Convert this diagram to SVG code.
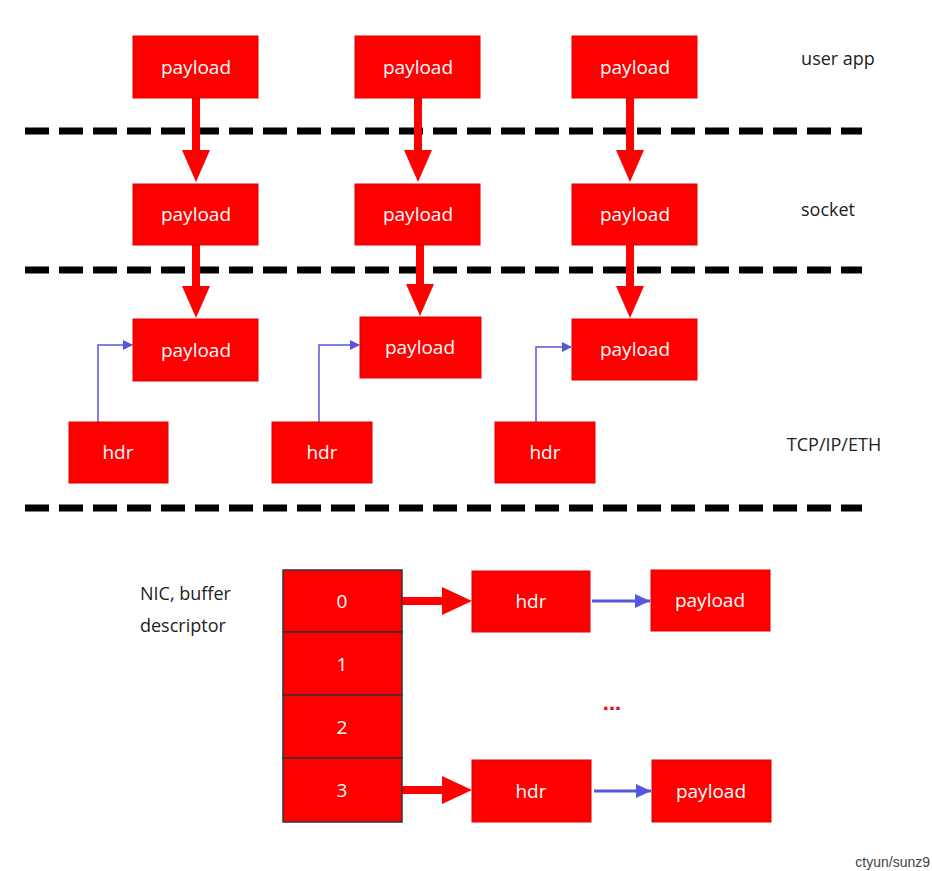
<svg xmlns="http://www.w3.org/2000/svg" width="932" height="871" viewBox="0 0 932 871">
<defs>
<style>
.b{fill:#ff0000;stroke:#e00000;stroke-width:1}
.t{fill:#fff;font-family:"Open Sans","Liberation Sans",sans-serif;font-size:19px;text-anchor:middle;dominant-baseline:central}
.l{fill:#222;font-family:"Open Sans","Liberation Sans",sans-serif;font-size:18px}
.d{stroke:#000;stroke-width:7;stroke-dasharray:24 10;fill:none}
.r{stroke:#ff0000;stroke-width:8;fill:none}
.u{stroke:#5555dd;stroke-width:1.5;fill:none}
.u3{stroke:#5555dd;stroke-width:3;fill:none}
.c{fill:#ff0000;stroke:#333;stroke-width:1.5}
</style>
<marker id="bh" markerWidth="10" markerHeight="10" refX="9" refY="5" orient="auto" markerUnits="userSpaceOnUse"><path d="M0,0 L10,5 L0,10 z" fill="#5555dd"/></marker>
<marker id="bh2" markerWidth="16" markerHeight="16" refX="15" refY="8" orient="auto" markerUnits="userSpaceOnUse"><path d="M0,1 L15,8 L0,15 z" fill="#5555dd"/></marker>
</defs>
<rect width="932" height="871" fill="#fff"/>
<g id="dashes">
<line class="d" x1="25" y1="131" x2="862" y2="131"/>
<line class="d" x1="25" y1="270" x2="862" y2="270"/>
<line class="d" x1="25" y1="508" x2="862" y2="508"/>
</g>
<g id="connectors">
<line class="r" x1="196" y1="98" x2="196" y2="152"/><path d="M182,150 L210,150 L196,182 z" fill="#f00"/>
<line class="r" x1="418" y1="98" x2="418" y2="152"/><path d="M404,150 L432,150 L418,182 z" fill="#f00"/>
<line class="r" x1="630" y1="98" x2="630" y2="152"/><path d="M616,150 L644,150 L630,182 z" fill="#f00"/>
<line class="r" x1="196" y1="245" x2="196" y2="288"/><path d="M182,286 L210,286 L196,318 z" fill="#f00"/>
<line class="r" x1="420" y1="245" x2="420" y2="286"/><path d="M406,284 L434,284 L420,316 z" fill="#f00"/>
<line class="r" x1="630" y1="245" x2="630" y2="288"/><path d="M616,286 L644,286 L630,318 z" fill="#f00"/>
<path class="u" d="M98,422 V345 H132" marker-end="url(#bh)"/>
<path class="u" d="M319,422 V345 H359" marker-end="url(#bh)"/>
<path class="u" d="M536,422 V347 H571" marker-end="url(#bh)"/>
<line class="r" x1="402" y1="601" x2="444" y2="601"/><path d="M442,587 L472,601 L442,615 z" fill="#f00"/>
<line class="r" x1="402" y1="790" x2="444" y2="790"/><path d="M442,776 L472,790 L442,804 z" fill="#f00"/>
<line class="u3" x1="592" y1="601" x2="650" y2="601" marker-end="url(#bh2)"/>
<line class="u3" x1="594" y1="791" x2="651" y2="791" marker-end="url(#bh2)"/>
</g>
<g id="row1">
<g id="p1a"><rect class="b" x="133" y="36" width="125" height="62"/><text class="t" x="196" y="67">payload</text></g>
<g id="p1b"><rect class="b" x="355" y="36" width="125" height="62"/><text class="t" x="418" y="67">payload</text></g>
<g id="p1c"><rect class="b" x="572" y="36" width="125" height="62"/><text class="t" x="635" y="67">payload</text></g>
</g>
<g id="row2">
<g id="p2a"><rect class="b" x="133" y="184" width="125" height="61"/><text class="t" x="196" y="214">payload</text></g>
<g id="p2b"><rect class="b" x="355" y="184" width="125" height="61"/><text class="t" x="418" y="214">payload</text></g>
<g id="p2c"><rect class="b" x="572" y="184" width="125" height="61"/><text class="t" x="635" y="214">payload</text></g>
</g>
<g id="row3">
<g id="p3a"><rect class="b" x="133" y="319" width="125" height="62"/><text class="t" x="196" y="350">payload</text></g>
<g id="p3b"><rect class="b" x="360" y="317" width="121" height="61"/><text class="t" x="420" y="347">payload</text></g>
<g id="p3c"><rect class="b" x="572" y="319" width="125" height="61"/><text class="t" x="635" y="349">payload</text></g>
<g id="h3a"><rect class="b" x="69" y="422" width="99" height="61"/><text class="t" x="118" y="452">hdr</text></g>
<g id="h3b"><rect class="b" x="272" y="422" width="100" height="61"/><text class="t" x="322" y="452">hdr</text></g>
<g id="h3c"><rect class="b" x="495" y="422" width="100" height="61"/><text class="t" x="545" y="452">hdr</text></g>
</g>
<g id="nic">
<rect class="c" x="283" y="570" width="119" height="62"/><text class="t" x="342" y="601">0</text>
<rect class="c" x="283" y="632" width="119" height="63"/><text class="t" x="342" y="664">1</text>
<rect class="c" x="283" y="695" width="119" height="63"/><text class="t" x="342" y="727">2</text>
<rect class="c" x="283" y="758" width="119" height="64"/><text class="t" x="342" y="790">3</text>
</g>
<g id="bufs">
<g id="h0"><rect class="b" x="472" y="571" width="118" height="61"/><text class="t" x="531" y="601">hdr</text></g>
<g id="q0"><rect class="b" x="651" y="570" width="119" height="61"/><text class="t" x="710" y="600">payload</text></g>
<g id="h3"><rect class="b" x="472" y="760" width="119" height="62"/><text class="t" x="531" y="791">hdr</text></g>
<g id="q3"><rect class="b" x="652" y="760" width="119" height="62"/><text class="t" x="711" y="791">payload</text></g>
<text x="612" y="710" fill="#e00" font-family="Liberation Sans,sans-serif" font-size="22" font-weight="bold" text-anchor="middle">...</text>
</g>
<g id="labels">
<text class="l" x="838" y="65" text-anchor="middle">user app</text>
<text class="l" x="828" y="216" text-anchor="middle">socket</text>
<text class="l" x="834" y="451" text-anchor="middle">TCP/IP/ETH</text>
<text class="l" x="140" y="600">NIC, buffer</text>
<text class="l" x="140" y="632">descriptor</text>
<text x="930" y="867" fill="#444" font-family="Liberation Sans,sans-serif" font-size="14" text-anchor="end">ctyun/sunz9</text>
</g>
</svg>
